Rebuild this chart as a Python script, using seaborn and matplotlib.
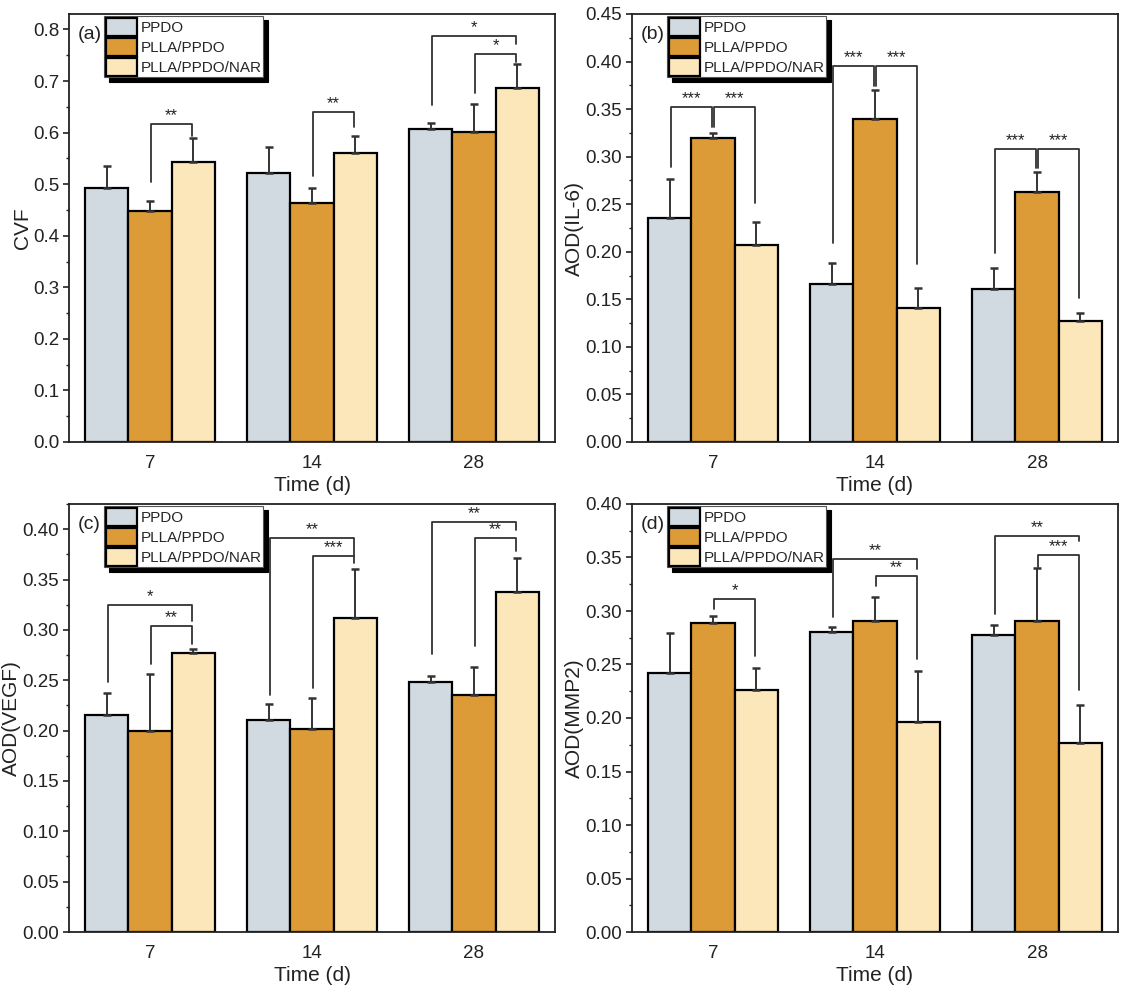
import numpy as np
import pandas as pd
import matplotlib
matplotlib.use("Agg")
import matplotlib.pyplot as plt
from matplotlib.ticker import MultipleLocator, FormatStrFormatter
import seaborn as sns

# ---------------------------------------------------------------------------
# data
# ---------------------------------------------------------------------------
times = ["7", "14", "28"]
groups = ["PPDO", "PLLA/PPDO", "PLLA/PPDO/NAR"]
colors = ["#D1DAE1", "#DC9B36", "#FCE7BA"]

# (a) CVF
cvf_ppdo = [0.492, 0.521, 0.607]
cvf_plla = [0.447, 0.464, 0.602]
cvf_nar = [0.543, 0.561, 0.686]
cvf_ppdo_err = [0.043, 0.052, 0.012]
cvf_plla_err = [0.021, 0.028, 0.053]
cvf_nar_err = [0.047, 0.033, 0.048]

# (b) AOD(IL-6)
il6_ppdo = [0.235, 0.166, 0.161]
il6_plla = [0.320, 0.340, 0.263]
il6_nar = [0.207, 0.141, 0.127]
il6_ppdo_err = [0.042, 0.022, 0.022]
il6_plla_err = [0.005, 0.030, 0.021]
il6_nar_err = [0.024, 0.021, 0.009]

# (c) AOD(VEGF)
vegf_ppdo = [0.215, 0.211, 0.248]
vegf_plla = [0.200, 0.202, 0.235]
vegf_nar = [0.277, 0.312, 0.338]
vegf_ppdo_err = [0.022, 0.015, 0.006]
vegf_plla_err = [0.056, 0.030, 0.028]
vegf_nar_err = [0.004, 0.048, 0.033]

# (d) AOD(MMP2)
mmp2_ppdo = [0.242, 0.280, 0.278]
mmp2_plla = [0.289, 0.291, 0.291]
mmp2_nar = [0.226, 0.196, 0.177]
mmp2_ppdo_err = [0.037, 0.005, 0.009]
mmp2_plla_err = [0.006, 0.022, 0.049]
mmp2_nar_err = [0.021, 0.048, 0.035]

# significance brackets: (time index, group a, group b, top, left leg end, right leg end, label)
cvf_sig = [(0, 1, 2, 0.616, 0.505, 0.594, "**"),
           (1, 1, 2, 0.640, 0.515, 0.611, "**"),
           (2, 0, 2, 0.787, 0.654, 0.771, "*"),
           (2, 1, 2, 0.752, 0.676, 0.736, "*")]
il6_sig = [(0, 0, 1, 0.352, 0.289, 0.331, "***"),
           (0, 1, 2, 0.352, 0.331, 0.251, "***"),
           (1, 0, 1, 0.395, 0.209, 0.374, "***"),
           (1, 1, 2, 0.395, 0.374, 0.187, "***"),
           (2, 0, 1, 0.308, 0.199, 0.288, "***"),
           (2, 1, 2, 0.308, 0.288, 0.151, "***")]
vegf_sig = [(0, 0, 2, 0.325, 0.248, 0.309, "*"),
            (0, 1, 2, 0.304, 0.266, 0.286, "**"),
            (1, 0, 2, 0.391, 0.235, 0.373, "**"),
            (1, 1, 2, 0.373, 0.242, 0.366, "***"),
            (2, 0, 2, 0.407, 0.276, 0.399, "**"),
            (2, 1, 2, 0.391, 0.284, 0.378, "**")]
mmp2_sig = [(0, 1, 2, 0.311, 0.302, 0.258, "*"),
            (1, 0, 2, 0.349, 0.294, 0.339, "**"),
            (1, 1, 2, 0.333, 0.323, 0.255, "**"),
            (2, 0, 2, 0.370, 0.297, 0.365, "**"),
            (2, 1, 2, 0.352, 0.341, 0.226, "***")]

panels = [
    ("(a)", "CVF", [cvf_ppdo, cvf_plla, cvf_nar], [cvf_ppdo_err, cvf_plla_err, cvf_nar_err],
     cvf_sig, 0.83, 0.1, "%.1f"),
    ("(b)", "AOD(IL-6)", [il6_ppdo, il6_plla, il6_nar], [il6_ppdo_err, il6_plla_err, il6_nar_err],
     il6_sig, 0.45, 0.05, "%.2f"),
    ("(c)", "AOD(VEGF)", [vegf_ppdo, vegf_plla, vegf_nar], [vegf_ppdo_err, vegf_plla_err, vegf_nar_err],
     vegf_sig, 0.425, 0.05, "%.2f"),
    ("(d)", "AOD(MMP2)", [mmp2_ppdo, mmp2_plla, mmp2_nar], [mmp2_ppdo_err, mmp2_plla_err, mmp2_nar_err],
     mmp2_sig, 0.40, 0.05, "%.2f"),
]

# ---------------------------------------------------------------------------
# style
# ---------------------------------------------------------------------------
sns.set_theme(style="ticks")
plt.rcParams["font.family"] = ["Liberation Sans", "DejaVu Sans"]
plt.rcParams["axes.linewidth"] = 1.3
plt.rcParams["axes.edgecolor"] = "#222222"

fig = plt.figure(figsize=(11.25, 9.96), dpi=100)
W, H = 1125, 996
boxes = [(69, 14), (632, 14), (69, 504), (632, 504)]   # left, top in pixels
ax_w, ax_h = 486, 428

line_col = "#333333"
text_col = "#222222"

for (lab, ylab, means, errs, sig, ymax, step, fmt), (lx, ty) in zip(panels, boxes):
    ax = fig.add_axes([lx / W, 1 - (ty + ax_h) / H, ax_w / W, ax_h / H])

    df = pd.DataFrame({
        "Time": np.repeat([times], len(groups), axis=0).ravel(),
        "Group": np.repeat(groups, len(times)),
        "value": np.concatenate(means),
    })
    sns.barplot(data=df, x="Time", y="value", hue="Group", order=times, hue_order=groups,
                palette=colors, edgecolor="black", linewidth=1.6, width=0.8, gap=0,
                errorbar=None, saturation=1, ax=ax, zorder=2)

    # bar centres per group / time, taken from the drawn bars
    bar_conts = list(ax.containers)
    centres = []
    for gi, cont in enumerate(bar_conts):
        xs = np.array([b.get_x() + b.get_width() / 2 for b in cont])
        hs = np.array([b.get_height() for b in cont])
        centres.append(xs)
        ax.errorbar(xs, hs, yerr=[np.zeros(len(xs)), errs[gi]], fmt="none",
                    ecolor=line_col, elinewidth=1.4, capsize=2.7, capthick=1.8, zorder=3)

    for ti, a, b, top, yl, yr, txt in sig:
        x1 = centres[a][ti] + 0.008
        x2 = centres[b][ti] - 0.008
        ax.plot([x1, x1, x2, x2], [yl, top, top, yr], color=line_col, lw=1.3, zorder=4)
        ax.text((x1 + x2) / 2, top + ymax * 0.002, txt, ha="center", va="bottom",
                fontsize=12, color=text_col)

    ax.set_xlim(-0.5, 2.5)
    ax.set_ylim(0, ymax)
    ax.yaxis.set_major_locator(MultipleLocator(step))
    ax.yaxis.set_minor_locator(MultipleLocator(step / 2))
    ax.yaxis.set_major_formatter(FormatStrFormatter(fmt))
    ax.tick_params(axis="y", which="major", direction="out", length=4.5, width=1.2,
                   labelsize=13.5, pad=2.5, colors=text_col)
    ax.tick_params(axis="y", which="minor", direction="out", length=2.5, width=1.0, colors=text_col)
    ax.tick_params(axis="x", length=0, labelsize=13.5, pad=9, colors=text_col)
    ax.set_xlabel("Time (d)", fontsize=15, labelpad=3, color=text_col)
    ax.set_ylabel(ylab, fontsize=15, labelpad=1, color=text_col)
    for s in ax.spines.values():
        s.set_visible(True)
        s.set_linewidth(1.3)

    ax.text(0.018, 0.952, lab, transform=ax.transAxes, fontsize=14, ha="left", va="center",
            color=text_col)
    leg = ax.legend(loc="upper left", bbox_to_anchor=(0.068, 1.0), fontsize=11,
                    frameon=True, fancybox=False, edgecolor="#555555",
                    shadow={"ox": 3, "oy": -3, "color": "black", "alpha": 1},
                    handlelength=2.0, handleheight=1.4, handletextpad=0.25,
                    labelspacing=0.15, borderpad=0.12, borderaxespad=0.15)
    leg.get_frame().set_linewidth(0.8)
    leg.set_zorder(6)

fig.savefig("out.png", dpi=100)
